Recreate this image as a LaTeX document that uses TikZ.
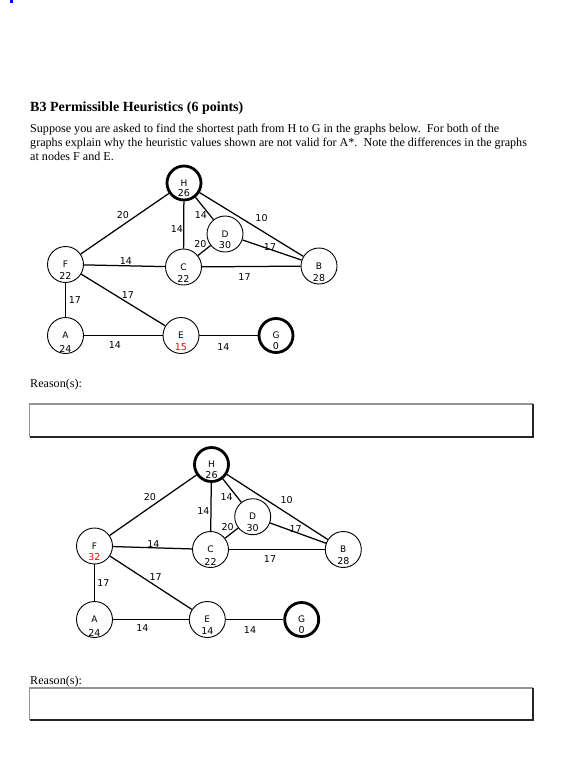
\documentclass[tikz,border=0pt]{standalone}
\usepackage{fontspec}
\setmainfont{Liberation Serif}
\newfontfamily\lblfont{DejaVu Sans}
\begin{document}
\begin{tikzpicture}[x=1pt,y=-1pt,
  vtx/.style={circle,draw=black,line width=0.9pt,minimum size=36pt,inner sep=0pt},
  endvtx/.style={vtx,line width=2.8pt,minimum size=34pt},
  edge/.style={line width=1.25pt,black},
  vlet/.style={font=\lblfont\fontsize{9}{10}\selectfont,inner sep=0pt},
  vnum/.style={font=\lblfont\fontsize{9.5}{11}\selectfont,inner sep=0pt},
  elab/.style={font=\lblfont\fontsize{9.5}{11}\selectfont,inner sep=0pt},
  bodytxt/.style={font=\fontsize{12.1}{14}\selectfont,anchor=base west,inner sep=0pt},
  ansbox/.style={line width=1.2pt}]
\useasboundingbox (0,0) rectangle (580,758);
\fill[blue] (10,0) rectangle (13,3);

% ---------- text ----------
\node[anchor=base west,inner sep=0pt,font=\fontsize{14}{16}\selectfont\bfseries] (title) at (30,111.5) {B3 Permissible Heuristics (6 points)};
\node[bodytxt] (l1) at (30,132) {Suppose you are asked to find the shortest path from H to G in the graphs below.\ \ For both of the};
\node[bodytxt] (l2) at (30,146) {graphs explain why the heuristic values shown are not valid for A*.\ \ Note the differences in the graphs};
\node[bodytxt] (l3) at (30,160) {at nodes F and E.};

% ---------- graph 1 ----------
\node[endvtx] (H1) at (184,183) {};
\node[vtx] (D1) at (225,234) {};
\node[vtx] (C1) at (183.5,267) {};
\node[vtx] (F1) at (65.5,264.5) {};
\node[vtx] (B1) at (319,266) {};
\node[vtx] (A1) at (65.5,335.5) {};
\node[vtx] (E1) at (181,335.5) {};
\node[endvtx] (G1) at (276,335.5) {};

\draw[edge] (H1) -- (F1);
\draw[edge] (H1) -- (C1);
\draw[edge] (H1) -- (D1);
\draw[edge] (H1) -- (B1);
\draw[edge] (D1) -- (C1);
\draw[edge] (D1) -- (B1);
\draw[edge] (F1) -- (C1);
\draw[edge] (C1) -- (B1);
\draw[edge] (F1) -- (E1);
\draw[edge] (F1) -- (A1);
\draw[edge] (A1) -- (E1);
\draw[edge] (E1) -- (G1);

\foreach \n/\l/\v/\c/\d in {H1/H/26/black/10.5,D1/D/30/black/11.5,C1/C/22/black/12,F1/F/22/black/11.5,B1/B/28/black/12,A1/A/24/black/13,E1/E/15/red/11.5,G1/G/0/black/10.5}{
  \node[vlet] at (\n.center) {\l};
  \node[vnum,text=\c] at ([yshift=-\d pt]\n.center) {\v};
}

\node[elab] (e1a) at (123,215) {20};
\node[elab] (e1b) at (201,215) {14};
\node[elab] (e1c) at (261.5,218) {10};
\node[elab] (e1d) at (177,229) {14};
\node[elab] (e1e) at (200.5,244.5) {20};
\node[elab] (e1f) at (270,247) {17};
\node[elab] (e1g) at (126,261) {14};
\node[elab] (e1h) at (244.5,277) {17};
\node[elab] (e1i) at (128,295) {17};
\node[elab] (e1j) at (75,300.5) {17};
\node[elab] (e1k) at (115,345.5) {14};
\node[elab] (e1l) at (223.5,347) {14};

\node[bodytxt] (r1) at (30,387) {Reason(s):};
\draw[ansbox,gray!85] (29.5,437) -- (29.5,404) -- (533,404);
\draw[ansbox,black!85] (533,404) -- (533,437) -- (29.5,437);

% ---------- graph 2 ----------
\node[endvtx] (H2) at (211.5,464.5) {};
\node[vtx] (D2) at (252.7,516.7) {};
\node[vtx] (C2) at (210.5,549.5) {};
\node[vtx] (F2) at (94.5,546) {};
\node[vtx] (B2) at (343.3,549.5) {};
\node[vtx] (A2) at (94.5,619.5) {};
\node[vtx] (E2) at (207.3,619.5) {};
\node[endvtx] (G2) at (301.7,619.5) {};

\draw[edge] (H2) -- (F2);
\draw[edge] (H2) -- (C2);
\draw[edge] (H2) -- (D2);
\draw[edge] (H2) -- (B2);
\draw[edge] (D2) -- (C2);
\draw[edge] (D2) -- (B2);
\draw[edge] (F2) -- (C2);
\draw[edge] (C2) -- (B2);
\draw[edge] (F2) -- (E2);
\draw[edge] (F2) -- (A2);
\draw[edge] (A2) -- (E2);
\draw[edge] (E2) -- (G2);

\foreach \n/\l/\v/\c/\d in {H2/H/26/black/10.5,D2/D/30/black/11.5,C2/C/22/black/12,F2/F/32/red/11.5,B2/B/28/black/12,A2/A/24/black/13,E2/E/14/black/11.5,G2/G/0/black/10.5}{
  \node[vlet] at (\n.center) {\l};
  \node[vnum,text=\c] at ([yshift=-\d pt]\n.center) {\v};
}

\node[elab] (e2a) at (150,497.5) {20};
\node[elab] (e2b) at (226.7,497) {14};
\node[elab] (e2c) at (286.7,500.5) {10};
\node[elab] (e2d) at (203.3,511) {14};
\node[elab] (e2e) at (227.7,527) {20};
\node[elab] (e2f) at (295.7,529.5) {17};
\node[elab] (e2g) at (153.3,544) {14};
\node[elab] (e2h) at (270,559) {17};
\node[elab] (e2i) at (155.7,577) {17};
\node[elab] (e2j) at (103.3,583.5) {17};
\node[elab] (e2k) at (142.3,628.5) {14};
\node[elab] (e2l) at (250,630) {14};

\node[bodytxt] (r2) at (30,684) {Reason(s):};
\draw[ansbox,gray!85] (29.5,720) -- (29.5,688) -- (533,688);
\draw[ansbox,black!85] (533,688) -- (533,720) -- (29.5,720);
\end{tikzpicture}
\end{document}
